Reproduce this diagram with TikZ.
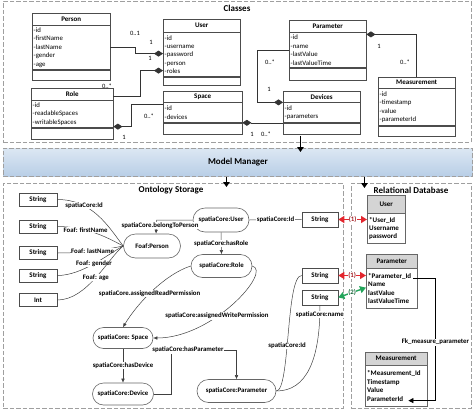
\documentclass[tikz,border=0pt]{standalone}
\usepackage{fontspec}
\setmainfont{Carlito}
\usetikzlibrary{arrows.meta, positioning, shapes.misc}
\definecolor{mgrtop}{HTML}{DCE7F3}
\definecolor{mgrbot}{HTML}{B8CEE6}
\definecolor{linkred}{HTML}{E3262E}
\definecolor{linkgreen}{HTML}{22A45A}
\definecolor{theadgray}{HTML}{D4D4D4}

\begin{document}
\begin{tikzpicture}[x=1pt, y=-1pt,
    font=\fontsize{6.8}{8.4}\selectfont,
    frame/.style={draw=gray!75, dash pattern=on 4.5pt off 2pt, line width=0.9pt, inner sep=0pt, anchor=north west},
    title/.style={font=\fontsize{9}{10}\selectfont\bfseries, inner sep=1pt},
    chead/.style={draw=black!70, anchor=north west, inner sep=0pt, font=\fontsize{7}{8}\selectfont\bfseries},
    catt/.style={draw=black!70, align=left, inner sep=1.5pt},
    cop/.style={draw=black!70, inner sep=0pt},
    mult/.style={inner sep=0pt, font=\fontsize{6.5}{7}\selectfont},
    comp/.style={draw=black!80, line width=0.6pt, -{Diamond[length=9pt,width=6pt]}},
    bigarrow/.style={line width=1.6pt, -{Triangle[length=5pt,width=6.5pt]}},
    concept/.style={rounded rectangle, draw=black!60, line width=0.6pt, inner sep=1pt, font=\fontsize{6.8}{8}\selectfont\bfseries},
    literal/.style={draw=black!70, line width=0.6pt, inner sep=0pt, font=\fontsize{7}{8}\selectfont\bfseries},
    rel/.style={draw=black!75, line width=0.5pt},
    relarrow/.style={rel, -{Latex[length=4pt,width=3.5pt]}},
    lbl/.style={fill=white, inner sep=0.6pt, font=\fontsize{6.8}{8}\selectfont\bfseries},
    thead/.style={draw=gray!80!black, fill=theadgray, anchor=north west, inner sep=0pt, font=\fontsize{7}{8}\selectfont\bfseries},
    tbody/.style={draw=gray!80!black, align=left, inner sep=2pt, font=\fontsize{7}{8.4}\selectfont\bfseries},
    link/.style={line width=1.4pt, {Triangle[length=6pt,width=7pt]}-{Triangle[length=6pt,width=7pt]}},
    linknum/.style={fill=white, inner sep=0.3pt, font=\fontsize{6.8}{8}\selectfont\bfseries}
]
\useasboundingbox (0,0) rectangle (474,413);

\node (classes) [frame, minimum width=468pt, minimum height=141pt] at (3,1) {};
\node (classes-title) [title] at (237,8) {Classes};
\node (manager) [frame, title, top color=mgrtop, bottom color=mgrbot, minimum width=469pt, minimum height=28pt] at (3,148) {Model Manager};
\node (ontology) [frame, minimum width=340pt, minimum height=225pt] at (3,183) {};
\node (ontology-title) [title] at (171,190) {Ontology Storage};
\node (relational) [frame, minimum width=120pt, minimum height=225pt] at (351,183) {};
\node (relational-title) [title] at (411,190) {Relational Database};

\node (person) [chead, minimum width=78pt, minimum height=12pt] at (32,13) {Person};
\node (person-att) [catt, text width=75pt, minimum height=44pt, below=0pt of person] {-id\\-firstName\\-lastName\\-gender\\-age};
\node (person-op) [cop, minimum width=78pt, minimum height=10pt, below=0pt of person-att] {};

\node (role) [chead, minimum width=82pt, minimum height=12pt] at (31,88) {Role};
\node (role-att) [catt, text width=79pt, minimum height=27pt, below=0pt of role] {-id\\-readableSpaces\\-writableSpaces};
\node (role-op) [cop, minimum width=82pt, minimum height=11pt, below=0pt of role-att] {};

\node (user) [chead, minimum width=77pt, minimum height=13pt] at (163,19) {User};
\node (user-att) [catt, text width=74pt, minimum height=44pt, below=0pt of user] {-id\\-username\\-password\\-person\\-roles};
\node (user-op) [cop, minimum width=77pt, minimum height=8pt, below=0pt of user-att] {};

\node (space) [chead, minimum width=79pt, minimum height=11pt] at (163,91) {Space};
\node (space-att) [catt, text width=76pt, minimum height=20pt, below=0pt of space] {-id\\-devices};
\node (space-op) [cop, minimum width=79pt, minimum height=11pt, below=0pt of space-att] {};

\node (parameter) [chead, minimum width=77pt, minimum height=12pt] at (289,20) {Parameter};
\node (parameter-att) [catt, text width=74pt, minimum height=35pt, below=0pt of parameter] {-id\\-name\\-lastValue\\-lastValueTime};
\node (parameter-op) [cop, minimum width=77pt, minimum height=12pt, below=0pt of parameter-att] {};

\node (devices) [chead, minimum width=77pt, minimum height=11pt] at (283,91) {Devices};
\node (devices-att) [catt, text width=74pt, minimum height=20pt, below=0pt of devices] {-id\\-parameters};
\node (devices-op) [cop, minimum width=77pt, minimum height=11pt, below=0pt of devices-att] {};

\node (measurement) [chead, minimum width=77pt, minimum height=11pt] at (378,77) {Measurement};
\node (measurement-att) [catt, text width=74pt, minimum height=37pt, below=0pt of measurement] {-id\\-timestamp\\-value\\-parameterId};
\node (measurement-op) [cop, minimum width=77pt, minimum height=10pt, below=0pt of measurement-att] {};

\draw [comp] (person-att.east) -- ++(25,0) |- ([yshift=1pt]user-att.west)
    node[mult] at (135,33) {0..1} node[mult] at (151,42) {1};
\draw [comp] ([yshift=-2pt]role.east) -- ++(27,0) |- ([yshift=-16pt]user-att.west)
    node[mult] at (107,86) {0..*} node[mult] at (150,58) {1};
\draw [comp] ([yshift=8pt]space-att.west) -- ++(-32,0) |- ([yshift=-12.5pt]role-att.east)
    node[mult] at (149,116) {0..*} node[mult] at (124,137) {1};
\draw [comp] (devices-att.south west) -- (space-att.south east)
    node[mult] at (252,134) {1} node[mult] at (266,134) {0..*};
\draw [comp] (parameter-att.west) -- ++(-32,0) |- (devices-att.north west)
    node[mult] at (270,62) {0..*} node[mult] at (269,89) {1};
\draw [comp] (measurement.north) |- ([yshift=-2pt]parameter-att.north east)
    node[mult] at (379,46) {1} node[mult] at (405,62) {0..*};

\draw [bigarrow] ([xshift=63pt,yshift=7pt]classes.south) -- ([xshift=62.5pt,yshift=-4pt]manager.north);
\draw [bigarrow] ([xshift=-11.5pt]manager.south) -- ([xshift=53pt,yshift=-4pt]ontology.north);
\draw [bigarrow] ([xshift=126.5pt]manager.south) -- ([xshift=-47pt,yshift=-5pt]relational.north);

\node (s1) [literal, minimum width=38pt, minimum height=13pt] at (38,199.5) {String};
\node (s2) [literal, minimum width=38pt, minimum height=13pt] at (38,226.5) {String};
\node (s3) [literal, minimum width=38pt, minimum height=13pt] at (38,253) {String};
\node (s4) [literal, minimum width=38pt, minimum height=13pt] at (38,275.5) {String};
\node (int) [literal, minimum width=38pt, minimum height=13pt] at (38,300) {Int};
\node (s5) [literal, minimum width=36pt, minimum height=15pt] at (320,219.5) {String};
\node (s6) [literal, minimum width=36pt, minimum height=15pt] at (320,275.5) {String};
\node (s7) [literal, minimum width=36pt, minimum height=15pt] at (320,297.5) {String};

\node (foaf) [concept, minimum width=59pt, minimum height=24pt] at (152,246) {Foaf:Person};
\node (suser) [concept, minimum width=58pt, minimum height=24pt] at (221,220) {spatiaCore:User};
\node (srole) [concept, minimum width=63pt, minimum height=23pt] at (221.5,266) {spatiaCore:Role};
\node (sspace) [concept, minimum width=62pt, minimum height=21pt] at (123,338) {spatiaCore: Space};
\node (sdevice) [concept, minimum width=63pt, minimum height=22pt] at (123,394) {spatiaCore:Device};
\node (sparam) [concept, minimum width=81pt, minimum height=23pt] at (236.5,391) {spatiaCore:Parameter};

\draw [rel] (s1.east) .. controls +(35,0) and +(-15,-20) .. node[lbl, pos=0.3] {spatiaCore:Id} (foaf.west);
\draw [rel] (s2.east) .. controls +(30,0) and +(-15,-8) .. node[lbl, pos=0.35] {Foaf: firstName} (foaf.west);
\draw [rel] (s3.east) .. controls +(30,0) and +(-15,3) .. node[lbl, pos=0.45] {Foaf: lastName} (foaf.west);
\draw [rel] (s4.east) .. controls +(25,0) and +(-15,8) .. node[lbl, pos=0.5] {Foaf: gender} (foaf.west);
\draw [rel] (int.east) .. controls +(30,0) and +(-15,12) .. node[lbl, pos=0.5] {Foaf: age} (foaf.west);

\draw [rel] (suser.east) -- node[lbl] {spatiaCore:Id} (s5.west);
\draw [relarrow] (suser.west) -- ++(-36,0) -- ([xshift=4pt]foaf.north)
    node[lbl] at (160,225.5) {spatiaCore.belongToPerson};
\draw [relarrow] (suser.south) -- node[lbl] {spatiaCore:hasRole} (srole.north);
\draw [relarrow] (srole.west) .. controls +(-25,8) and +(15,-25) .. node[lbl, pos=0.55] {spatiaCore.assignedReadPermission} (sspace.north);
\draw [relarrow] (srole.east) .. controls +(20,5) and +(60,0) .. node[lbl, pos=0.62] {spatiaCore:assignedWritePermission} (sspace.east);
\draw [relarrow] (sspace.south) -- node[lbl] {spatiaCore:hasDevice} (sdevice.north);
\draw [relarrow] (sdevice.east) -- ++(17,0) -- ++(0,-44) -| node[lbl, pos=0.13] {spatiaCore:hasParameter} (sparam.north);
\draw [rel] (sparam.east) .. controls +(14,0) and +(-16,0) .. node[lbl, pos=0.43] {spatiaCore:Id} (s6.west);
\draw [rel] (s7.south) .. controls +(0,55) and +(30,0) .. node[lbl, pos=0.06] {spatiaCore:name} (sparam.east);

\node (utab) [thead, minimum width=38pt, minimum height=18pt] at (367,195) {User};
\node (utab-body) [tbody, text width=34pt, minimum height=30pt, below=0pt of utab] {*User\_Id\\Username\\password};
\node (ptab) [thead, minimum width=51pt, minimum height=14pt] at (366,254) {Parameter};
\node (ptab-body) [tbody, text width=47pt, minimum height=40pt, below=0pt of ptab] {*Parameter\_Id\\Name\\lastValue\\lastValueTime};
\node (mtab) [thead, minimum width=62pt, minimum height=13pt] at (365,352) {Measurement};
\node (mtab-body) [tbody, text width=58pt, minimum height=41pt, below=0pt of mtab] {*Measurement\_Id\\Timestamp\\Value\\ParameterId};

\draw [line width=0.8pt, -{Triangle[length=5pt,width=5pt]}] ([xshift=-4pt,yshift=10pt]ptab-body.east) -- ++(22,0)
    |- node[lbl, pos=0.26] {Fk\_measure\_parameter} ([xshift=-19pt,yshift=-14.5pt]mtab-body.east);

\draw [link, linkred] (s5.east) -- node[linknum, text=linkred!70!black] {(1)} (s5.east -| utab-body.west);
\draw [link, linkred] (s6.east) -- node[linknum, text=linkred!70!black] {(1)} (s6.east -| ptab-body.west);
\draw [link, linkgreen] (s7.east) -- node[linknum, text=linkgreen!60!black] {(2)} ([yshift=1pt]ptab-body.west);

\end{tikzpicture}
\end{document}
